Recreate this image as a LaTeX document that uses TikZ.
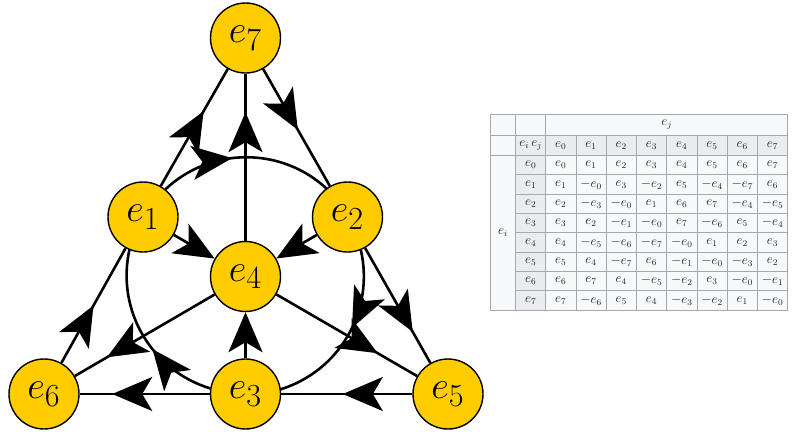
\documentclass[tikz,border=0pt]{standalone}
\usepackage{graphicx}
\usetikzlibrary{arrows.meta,decorations.markings}
\definecolor{gold}{RGB}{255,204,0}
\definecolor{hdr}{HTML}{EAECF0}
\definecolor{cellbg}{HTML}{F8F9FA}
\definecolor{bord}{HTML}{A2A9B1}
\definecolor{txt}{HTML}{202122}
\newcommand{\octlab}[1]{\scalebox{1.55}{$e_{#1}$}}
\newcommand{\tabm}[1]{\scalebox{1.1}{$#1$}}
\tikzset{bigtip/.tip={Stealth[length=40pt,width=34pt,inset=10pt]}}
\begin{document}
\begin{tikzpicture}[x=1pt,y=1pt,
  vert/.style={circle, draw=black, line width=1.4pt, fill=gold, minimum size=70pt, inner sep=0pt, font=\Huge},
  edge/.style={line width=2.6pt},
  midarrow/.style={postaction={decorate,decoration={markings,mark=at position #1 with {\arrow{bigtip}}}}},
  cell/.style={font=\fontsize{12}{14}\selectfont, text=txt, inner sep=0pt},
  grid/.style={draw=bord, line width=0.7pt}
]
\useasboundingbox (0,0) rectangle (800,-434);

% ---------- graph ----------
\node[vert] (e7) at (245.5,-38) {\octlab{7}};
\node[vert] (e1) at (143,-217) {\octlab{1}};
\node[vert] (e2) at (347.5,-217) {\octlab{2}};
\node[vert] (e4) at (245.5,-276.5) {\octlab{4}};
\node[vert] (e6) at (44,-394) {\octlab{6}};
\node[vert] (e3) at (245.5,-394) {\octlab{3}};
\node[vert] (e5) at (448,-394) {\octlab{5}};

\draw[edge, midarrow=0.64] (e1) -- (e7);
\draw[edge, midarrow=0.52] (e7) -- (e2);
\draw[edge, midarrow=0.77] (e4) -- (e7);
\draw[edge, -bigtip] (e1) -- (e4);
\draw[edge, -bigtip] (e2) -- (e4);
\draw[edge, -bigtip] (e3) -- (e4);
\draw[edge, midarrow=0.77] (e4) -- (e6);
\draw[edge, midarrow=0.72] (e4) -- (e5);
\draw[edge, midarrow=0.50] (e6) -- (e1);
\draw[edge, midarrow=0.73] (e2) -- (e5);
\draw[edge, midarrow=0.53] (e5) -- (e3);
\draw[edge, midarrow=0.75] (e3) -- (e6);
% circle through e1, e2, e3 (centre at e4)
\draw[edge, midarrow=0.42] (e1.51.7) arc[start angle=133.2, end angle=46.8, radius=118.2];
\draw[edge, midarrow=0.45] (e2.-68.3) arc[start angle=12.85, end angle=-73.2, radius=118.2];
\draw[edge, midarrow=0.40] (e3.171.7) arc[start angle=-107, end angle=-192.85, radius=118.2];

% ---------- table ----------
\fill[cellbg] (490.5,-114.7) rectangle (787.7,-310);
\fill[hdr] (515.7,-135.3) rectangle (787.7,-155.3);
\fill[hdr] (515.7,-135.3) rectangle (545.7,-310);
\draw[grid] (490.5,-114.7) rectangle (787.7,-310);
\draw[grid] (515.7,-114.7) -- (515.7,-310);
\draw[grid] (545.7,-114.7) -- (545.7,-310);
\foreach \k in {1,...,7} {
  \draw[grid] ({545.7+30.25*\k},-135.3) -- ({545.7+30.25*\k},-310);
  \draw[grid] (515.7,{-155.3-19.34*\k}) -- (787.7,{-155.3-19.34*\k});
}
\draw[grid] (490.5,-135.3) -- (787.7,-135.3);
\draw[grid] (490.5,-155.3) -- (787.7,-155.3);

\node[cell] (hj) at (666.7,-125) {\tabm{e_j}};
\node[cell] (hij) at (530.7,-145.3) {\tabm{e_i\,e_j}};
\node[cell] (hi) at (503.1,-232.7) {\tabm{e_i}};
\foreach \c in {0,...,7} {
  \node[cell] (col\c) at ({545.7+30.25*(\c+0.5)},-145.3) {\tabm{e_{\c}}};
  \node[cell] (row\c) at (530.7,{-155.3-19.34*(\c+0.5)}) {\tabm{e_{\c}}};
}
\foreach \r/\entries in {
  0/{e_0,e_1,e_2,e_3,e_4,e_5,e_6,e_7},
  1/{e_1,-e_0,e_3,-e_2,e_5,-e_4,-e_7,e_6},
  2/{e_2,-e_3,-e_0,e_1,e_6,e_7,-e_4,-e_5},
  3/{e_3,e_2,-e_1,-e_0,e_7,-e_6,e_5,-e_4},
  4/{e_4,-e_5,-e_6,-e_7,-e_0,e_1,e_2,e_3},
  5/{e_5,e_4,-e_7,e_6,-e_1,-e_0,-e_3,e_2},
  6/{e_6,e_7,e_4,-e_5,-e_2,e_3,-e_0,-e_1},
  7/{e_7,-e_6,e_5,e_4,-e_3,-e_2,e_1,-e_0}} {
  \foreach \v [count=\c from 0] in \entries {
    \node[cell] (d\r-\c) at ({545.7+30.25*(\c+0.5)},{-155.3-19.34*(\r+0.5)}) {\tabm{\v}};
  }
}
\end{tikzpicture}
\end{document}
